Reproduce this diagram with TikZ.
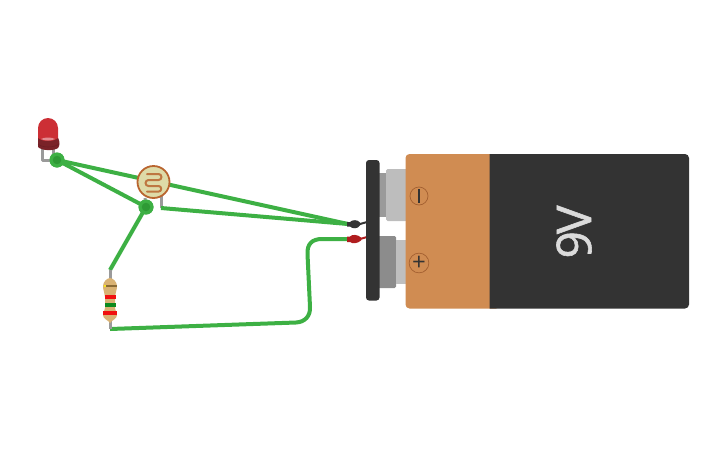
\documentclass[tikz,border=0pt]{standalone}
\usepackage{fontspec}
\setmainfont{Open Sans}
\newfontfamily\voltfont[FakeBold=1.2]{Open Sans}
\definecolor{wire}{HTML}{3DB044}
\definecolor{wiredk}{HTML}{2E9A35}
\definecolor{lead}{HTML}{9A9A9A}
\definecolor{batdark}{HTML}{333333}
\definecolor{batorange}{HTML}{D08C52}
\definecolor{ledred}{HTML}{CC2F35}
\definecolor{ledbase}{HTML}{7A2228}
\definecolor{resbody}{HTML}{D9B273}
\definecolor{bandred}{HTML}{F01010}
\definecolor{bandgreen}{HTML}{0C8A1E}
\definecolor{bandbrown}{HTML}{8A6A35}
\definecolor{snapred}{HTML}{B01C1E}
\definecolor{ldrfill}{HTML}{DEDBA8}
\definecolor{ldrline}{HTML}{B9652F}
\tikzset{
  wireline/.style={draw=wire,line width=4pt,line join=round},
  leadline/.style={draw=lead,line width=3pt},
  junction/.style={circle,fill=wire,minimum size=15pt,inner sep=0pt},
  junctioncore/.style={circle,fill=wiredk,minimum size=8.5pt,inner sep=0pt},
  polar/.style={circle,draw=ldrline!70!batorange!85!black,line width=.7pt,minimum size=18pt,inner sep=0pt,text=batdark},
}
\begin{document}
\begin{tikzpicture}[x=1pt,y=-1pt]
\useasboundingbox (0,0) rectangle (725,453);
% anchor points
\coordinate (ledA) at (42,160);
\coordinate (ledB) at (53,156);
\coordinate (ldrA) at (145,198);
\coordinate (ldrB) at (161,208);
\coordinate (resTop) at (110,270);
\coordinate (resBot) at (110,329);
\coordinate (snapN) at (348,224);
\coordinate (snapP) at (348,239);
\node[junction] (j1) at (57,160) {};
\node[junction] (j2) at (146,207) {};
% leads
\draw[leadline,line join=round] (42,148) -- (ledA) -- (j1.center);
\draw[leadline] (53,148) -- (ledB);
\draw[leadline] (ldrA) -- (j2.center);
\draw[leadline] (161,195) -- (ldrB);
% wires
\draw[wireline] (j1.center) -- (snapN);
\draw[wireline] (j1.center) -- (j2.center);
\draw[wireline] (ldrB) -- (snapN);
\draw[wireline] (j2.center) -- (resTop);
\draw[wireline] (resBot) -- (296,322.5) .. controls (305,322) and (310.5,316) .. (310,307) -- (307.5,254) .. controls (307,244) and (312,239) .. (322,239) -- (snapP);
\draw[leadline] (resTop) -- (110,282);
\draw[leadline] (110,316) -- (resBot);
\node[junction] at (j1) {};
\node[junction] at (j2) {};
\node[junctioncore] at (j1) {};
\node[junctioncore] at (j2) {};
% LED
\path[fill=ledbase] (38,137) -- (38,147) .. controls (42,151) and (54,151) .. (58,148) .. controls (60,146) and (60,141) .. (58,138) -- cycle;
\path[fill=ledred] (38,140) -- (38,128) arc[start angle=180,end angle=360,radius=10] -- (58,140) .. controls (54,143) and (42,143) .. (38,140) -- cycle;
\path[fill=ledbase] (38,138) .. controls (42,142) and (54,142) .. (58,138) -- (58,144) .. controls (54,147) and (42,147) .. (38,144) -- cycle;
\path[fill=white,fill opacity=.45] (41,139) .. controls (44,137) and (52,137) .. (55,139) .. controls (52,141) and (44,141) .. (41,139) -- cycle;
\draw[ledbase!80!black,line width=.6pt,opacity=.6] (38,144) .. controls (42,148) and (54,148) .. (59,144);
% LDR
\node[circle,fill=ldrfill,draw=ldrline,line width=1.8pt,minimum size=32pt,inner sep=0pt] (ldr) at (153.5,182) {};
\draw[ldrline!85!ldrfill,line width=2pt,line cap=round,line join=round]
 (147,174) -- (158.5,174) arc[start angle=-90,end angle=90,radius=3] -- (148.5,180) arc[start angle=270,end angle=90,radius=3] -- (158.5,186) arc[start angle=-90,end angle=90,radius=2.8] -- (147,191.6);
% Resistor
\path[fill=resbody] (110,278) .. controls (113,278) and (117,282) .. (117,286) .. controls (117,291) and (115,293) .. (115,297)
 -- (115,308) .. controls (115,311) and (117,312) .. (117,315) .. controls (117,319) and (112,320) .. (110,323)
 .. controls (108,320) and (103,319) .. (103,315) .. controls (103,312) and (105,311) .. (105,308) -- (105,297)
 .. controls (105,293) and (103,291) .. (103,286) .. controls (103,282) and (107,278) .. (110,278) -- cycle;
\fill[bandbrown] (103.5,285) rectangle (117,287);
\fill[yellow!80!resbody] (104,285) rectangle (106,287);
\fill[bandred] (104.5,295) rectangle (115.5,299);
\fill[bandgreen] (104.5,303) rectangle (115.5,307);
\fill[bandred] (103,310.5) rectangle (117,314.5);
% Snap connectors
\draw[batdark,line width=2pt] (snapN) ++(12,0) -- (367,222);
\path[fill=batdark] (347,222) -- (350,222) .. controls (352,219.5) and (358,219.5) .. (360,222.5) -- (360,225.5) .. controls (358,229) and (352,229) .. (350,226.5) -- (347,226.5) -- cycle;
\draw[snapred,line width=2pt] (snapP) ++(12,0) -- (367,237);
\path[fill=snapred] (347,236.5) -- (350,236.5) .. controls (352,234) and (358,234.5) .. (361,237.5) -- (361,240.5) .. controls (358,243.5) and (352,244) .. (350,242) -- (347,242) -- cycle;
% Battery terminals
\fill[lead] (379,173) rectangle (387,217);
\fill[rounded corners=1.5pt,fill=black!26] (386,169) rectangle (407,221);
\fill[rounded corners=1.5pt,fill=black!45] (376,236) rectangle (396,288);
\fill[black!25] (396,240) rectangle (407,284);
% plate
\fill[batdark,rounded corners=3pt] (366,160) rectangle (379.5,300.5);
% body
\fill[batorange,rounded corners=4pt] (405.5,154) rectangle (500,308.5);
\fill[batdark] (489.5,154) {[rounded corners=4pt] -- (689,154) -- (689,308.5)} -- (489.5,308.5) -- cycle;
% Polarity marks
\node[polar] (minus) at (419,196) {};
\draw[batdark,line width=1.4pt] (minus.center) ++(0,-7) -- ++(0,14);
\node[polar,font=\fontsize{24}{24}\selectfont] (plus) at (419,263) {+};
\node[rotate=90,text=black!14,font=\voltfont\fontsize{48}{48}\selectfont,inner sep=0pt] (volt) at (574,232) {9\kern-3pt V};
\end{tikzpicture}
\end{document}
